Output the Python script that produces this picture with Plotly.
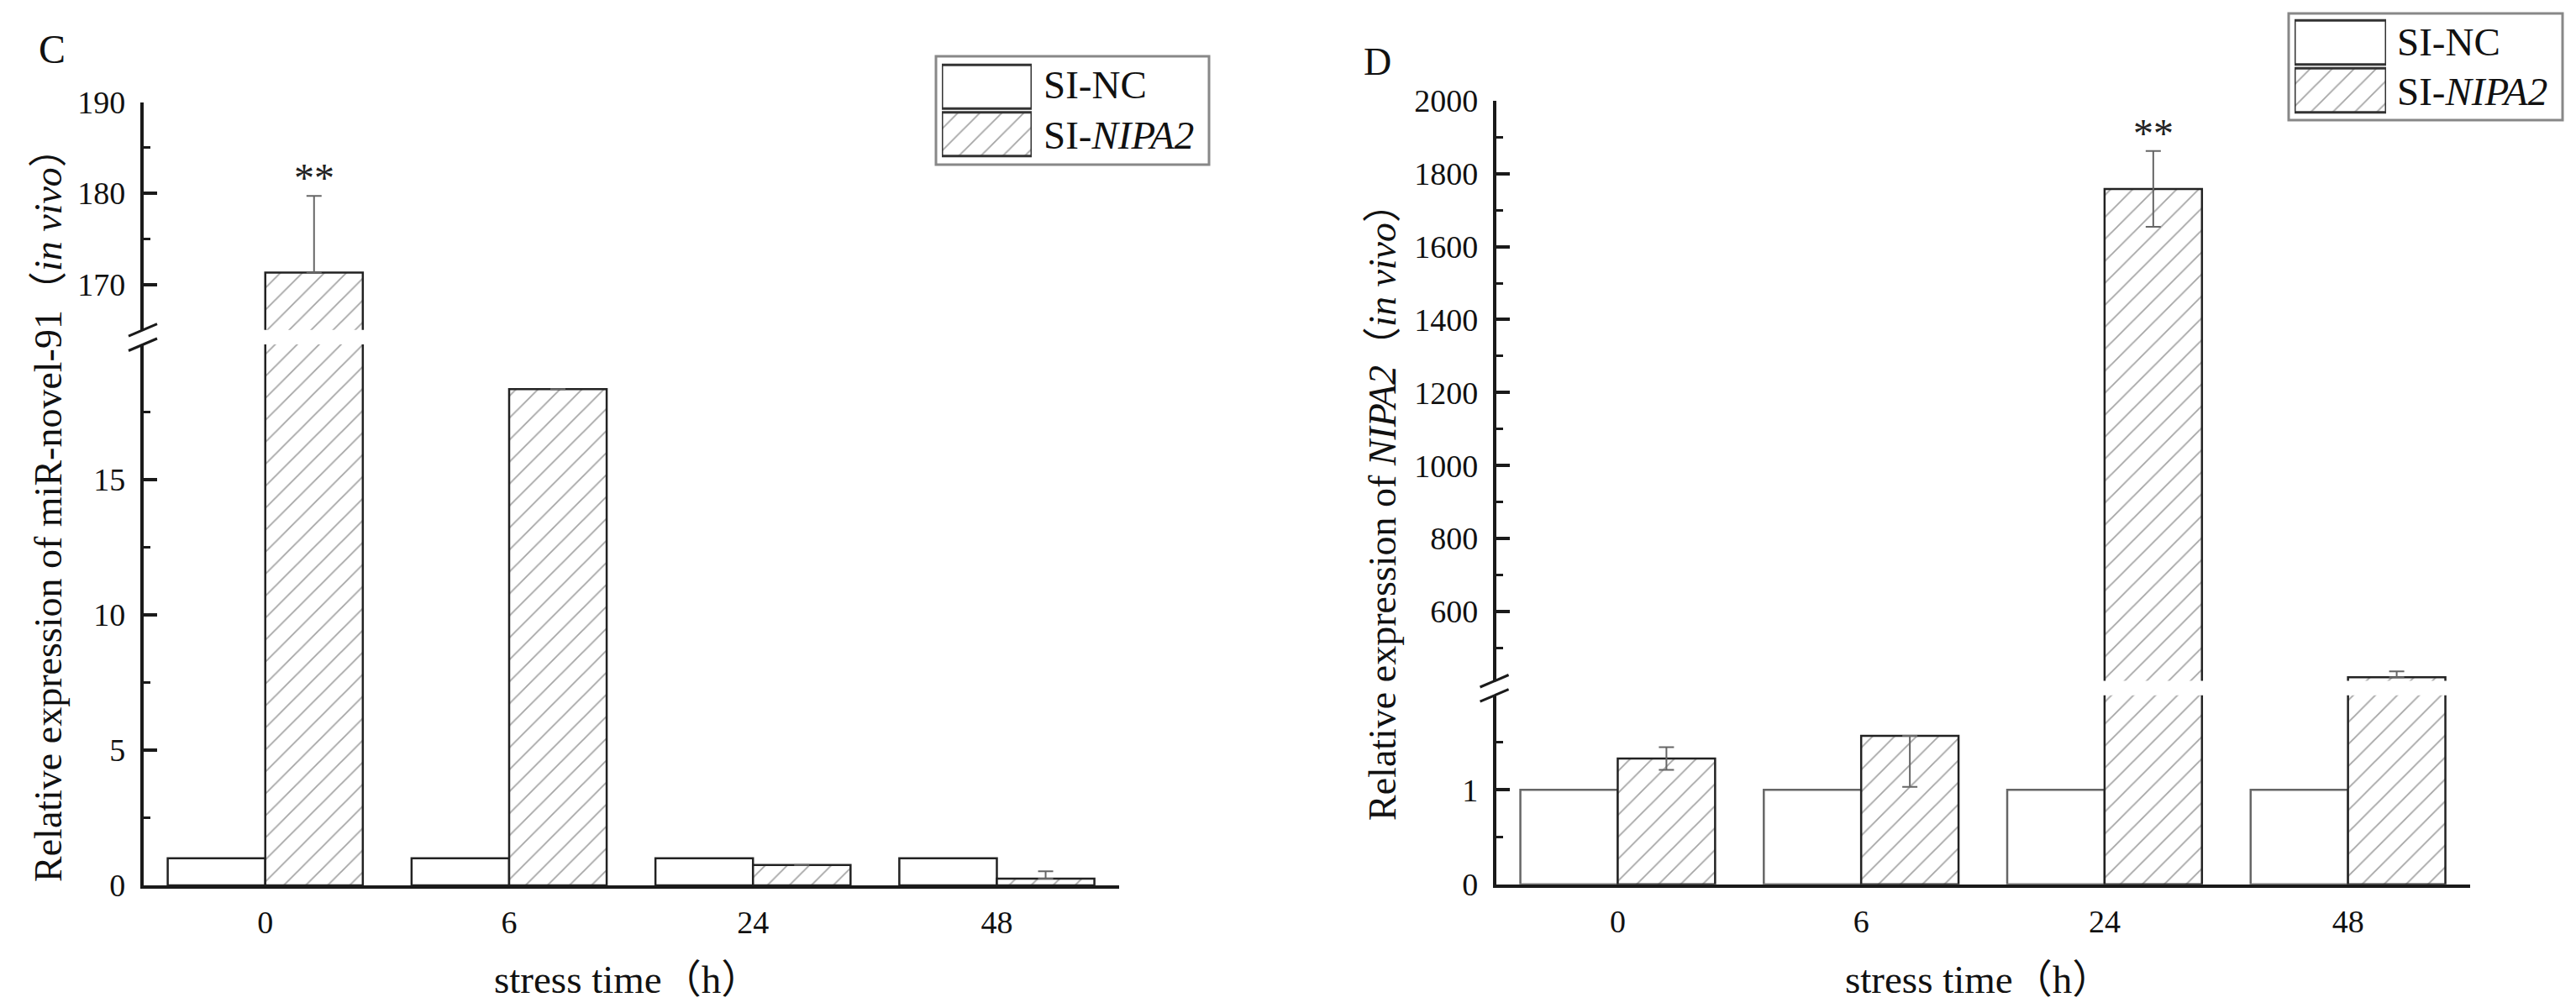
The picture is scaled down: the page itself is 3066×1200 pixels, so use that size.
import plotly.graph_objects as go

# ---------------- data ----------------
categories = ["0", "6", "24", "48"]

c_nc = [1, 1, 1, 1]
c_nipa2 = [171.3, 18.35, 0.75, 0.25]
c_err_plus = [8.4, 0, 0, 0.27]
c_err_minus = [0, 0, 0, 0]

d_nc = [1, 1, 1, 1]
d_nipa2 = [1.33, 1.57, 1758, 420]
d_err_plus = [0.12, 0, 104, 16]
d_err_minus = [0.12, 0.54, 104, 0]

series_names = ["SI-NC", "SI-<i>NIPA2</i>"]
c_ylabel = "Relative expression of miR-novel-91（<i>in vivo</i>）"
d_ylabel = "Relative expression of <i>NIPA2</i>（<i>in vivo</i>）"
xlabel = "stress time（h）"
panel_letters = ["C", "D"]
sig_mark = "**"

c_low_range = [0, 20]
c_low_ticks = [0, 5, 10, 15]
c_low_minor = [2.5, 7.5, 12.5, 17.5]
c_up_range = [165, 190]
c_up_ticks = [170, 180, 190]
c_up_minor = [175, 185]

d_low_range = [0, 2]
d_low_ticks = [0, 1]
d_low_minor = [0.5, 1.5]
d_up_range = [410, 2000]
d_up_ticks = [600, 800, 1000, 1200, 1400, 1600, 1800, 2000]
d_up_minor = [500, 700, 900, 1100, 1300, 1500, 1700, 1900]

# ---------------- layout helpers ----------------
W, H = 3066, 1200
FONT = "Liberation Serif, Times New Roman, Noto Sans CJK SC, serif"


def px(v):
    return v / W


def py(v):
    return 1 - v / H


def ydom(top, bottom):
    return [py(bottom), py(top)]


AX = "#1a1a1a"
HATCH = "#4d4d4d"
HATCH_SIZE = 18.5
HATCH_SOLID = 0.1

fig = go.Figure()


def add_panel(xa, ya_list, nc, nipa2, ep, em, nc_line):
    for ya in ya_list:
        fig.add_trace(go.Bar(
            x=categories, y=nc, xaxis=xa, yaxis=ya, name=series_names[0],
            marker=dict(color="white", line=dict(color=nc_line, width=2.5)),
            showlegend=False, cliponaxis=True))
        fig.add_trace(go.Bar(
            x=categories, y=nipa2, xaxis=xa, yaxis=ya, name=series_names[1],
            marker=dict(color="white", line=dict(color="#222222", width=2.5),
                        pattern=dict(shape="/", fgcolor=HATCH, bgcolor="white",
                                     size=HATCH_SIZE, solidity=HATCH_SOLID)),
            error_y=dict(type="data", symmetric=False, array=ep, arrayminus=em,
                         color="#666666", thickness=2, width=9),
            showlegend=False, cliponaxis=True))


add_panel("x", ["y", "y2"], c_nc, c_nipa2, c_err_plus, c_err_minus, "#222222")
add_panel("x2", ["y3", "y4"], d_nc, d_nipa2, d_err_plus, d_err_minus, "#666666")

# legend swatches drawn as bars on small hidden axes
for xa, ya in (("x3", "y5"), ("x4", "y6")):
    fig.add_trace(go.Bar(
        y=series_names, x=[1] * len(series_names), orientation="h",
        xaxis=xa, yaxis=ya, width=0.92,
        marker=dict(color="white", line=dict(color="#333333", width=3),
                    pattern=dict(shape=["", "/"], fgcolor=HATCH, bgcolor="white",
                                 size=HATCH_SIZE, solidity=HATCH_SOLID)),
        showlegend=False))

tickfont = dict(family=FONT, size=38, color="#111111")


def yax(domain, anchor, rng, ticks, minor):
    return dict(domain=domain, anchor=anchor, range=rng, showgrid=False,
                zeroline=False, showline=True, linecolor=AX, linewidth=3.5,
                ticks="inside", ticklen=17, tickwidth=4, tickcolor=AX,
                tickvals=ticks, ticktext=[str(t) for t in ticks],
                tickfont=tickfont, ticklabelstandoff=10,
                minor=dict(tickvals=minor, ticks="inside", ticklen=9,
                           tickwidth=3, tickcolor=AX, showgrid=False))


def xax(domain, anchor):
    return dict(domain=domain, anchor=anchor, type="category",
                categoryorder="array", categoryarray=categories,
                range=[-0.5, 3.5], showgrid=False, zeroline=False,
                showline=True, linecolor=AX, linewidth=3.5, ticks="",
                tickfont=tickfont, ticklabelstandoff=8)


layout = dict(
    width=W, height=H, margin=dict(l=0, r=0, t=0, b=0, autoexpand=False),
    paper_bgcolor="white", plot_bgcolor="rgba(0,0,0,0)",
    barmode="group", bargap=0.2, bargroupgap=0,
    font=dict(family=FONT, color="#111111"),
    showlegend=False,
    xaxis=xax([px(170.6), px(1331.6)], "y"),
    yaxis=yax(ydom(410, 1054), "x", c_low_range, c_low_ticks, c_low_minor),
    yaxis2=yax(ydom(121.7, 392.7), "x", c_up_range, c_up_ticks, c_up_minor),
    xaxis2=xax([px(1780.6), px(2939.5)], "y3"),
    yaxis3=yax(ydom(827.7, 1052.7), "x2", d_low_range, d_low_ticks, d_low_minor),
    yaxis4=yax(ydom(119.8, 810.5), "x2", d_up_range, d_up_ticks, d_up_minor),
    xaxis3=dict(domain=[px(1121), px(1228)], anchor="y5", range=[0, 1], visible=False),
    yaxis5=dict(domain=ydom(75, 188), anchor="x3", range=[1.5, -0.5],
                type="category", visible=False),
    xaxis4=dict(domain=[px(2731), px(2840)], anchor="y6", range=[0, 1], visible=False),
    yaxis6=dict(domain=ydom(22, 136), anchor="x4", range=[1.5, -0.5],
                type="category", visible=False),
)
fig.update_layout(**layout)

ann = []
title_font = dict(family=FONT, size=46, color="#111111")
xtitle_font = dict(family=FONT, size=47, color="#111111")
ann.append(dict(text=c_ylabel, x=px(57), y=py(602), xref="paper", yref="paper",
                textangle=-90, showarrow=False, font=title_font,
                xanchor="center", yanchor="middle"))
ann.append(dict(text=d_ylabel, x=px(1645), y=py(598), xref="paper", yref="paper",
                textangle=-90, showarrow=False, font=title_font,
                xanchor="center", yanchor="middle"))
ann.append(dict(text=xlabel, x=px(746), y=py(1166), xref="paper", yref="paper",
                showarrow=False, font=xtitle_font, xanchor="center", yanchor="middle"))
ann.append(dict(text=xlabel, x=px(2354), y=py(1166), xref="paper", yref="paper",
                showarrow=False, font=xtitle_font, xanchor="center", yanchor="middle"))
ann.append(dict(text=panel_letters[0], x=px(62), y=py(58), xref="paper", yref="paper",
                showarrow=False, font=dict(family=FONT, size=48, color="#111111"),
                xanchor="center", yanchor="middle"))
ann.append(dict(text=panel_letters[1], x=px(1639), y=py(74), xref="paper", yref="paper",
                showarrow=False, font=dict(family=FONT, size=46, color="#111111"),
                xanchor="center", yanchor="middle"))

leg_font = dict(family=FONT, size=47, color="#111111")
for i, name in enumerate(series_names):
    ann.append(dict(text=name, x=px(1240), y=py([101, 161][i]), xref="paper", yref="paper",
                    showarrow=False, font=leg_font, xanchor="left", yanchor="middle"))
    ann.append(dict(text=name, x=px(2851), y=py([49.5, 108.7][i]), xref="paper", yref="paper",
                    showarrow=False, font=leg_font, xanchor="left", yanchor="middle"))

# significance marks
star_font = dict(family=FONT, size=48, color="#222222")
ann.append(dict(text=sig_mark, x=0.2, y=c_nipa2[0] + c_err_plus[0], xref="x", yref="y2",
                showarrow=False, font=star_font, xanchor="center", yanchor="bottom",
                yshift=-7))
ann.append(dict(text=sig_mark, x=2.2, y=d_nipa2[2] + d_err_plus[2], xref="x2", yref="y4",
                showarrow=False, font=star_font, xanchor="center", yanchor="bottom",
                yshift=-7))
fig.update_layout(annotations=ann)

# legend boxes and axis break marks
shapes = []
shapes.append(dict(type="rect", xref="paper", yref="paper",
                   x0=px(1114), x1=px(1439), y0=py(196), y1=py(67),
                   line=dict(color="#888888", width=3), fillcolor="rgba(0,0,0,0)",
                   layer="below"))
shapes.append(dict(type="rect", xref="paper", yref="paper",
                   x0=px(2724), x1=px(3050), y0=py(143), y1=py(16),
                   line=dict(color="#888888", width=3), fillcolor="rgba(0,0,0,0)",
                   layer="below"))
for ax_x, ys in ((172, (392.7, 410)), (1780.6, (810.5, 827.7))):
    for yy in ys:
        shapes.append(dict(type="line", xref="paper", yref="paper",
                           x0=px(ax_x - 19), y0=py(yy + 7.5), x1=px(ax_x + 15), y1=py(yy - 7),
                           line=dict(color=AX, width=3)))
fig.update_layout(shapes=shapes)

page_js = (
    "var d=document.getElementById('{plot_id}');"
    "document.documentElement.style.margin='0';"
    "document.documentElement.style.overflow='hidden';"
    "document.body.style.margin='0';"
    "document.body.style.overflow='hidden';"
    "d.style.position='fixed';d.style.left='0px';d.style.top='0px';"
)

fig.write_html("out.html", config={"displayModeBar": False}, post_script=page_js)
